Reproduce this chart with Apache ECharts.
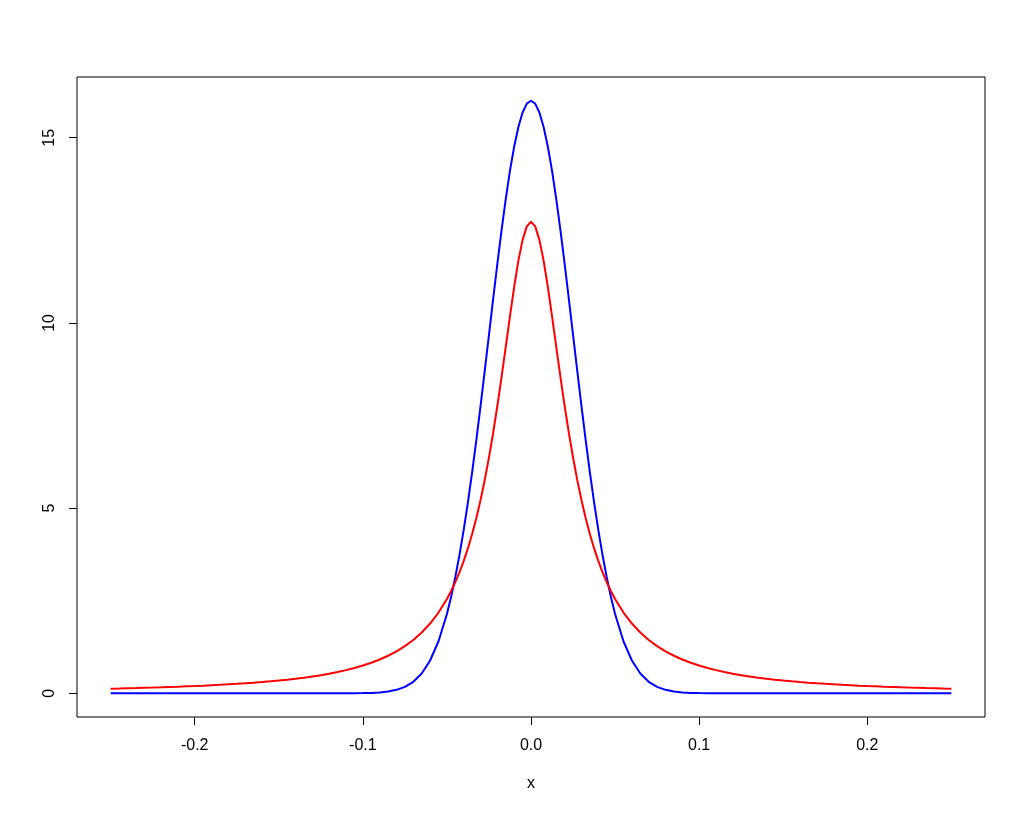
<!DOCTYPE html>
<html>
<head>
<meta charset="utf-8">
<script src="https://cdn.jsdelivr.net/npm/echarts@6/dist/echarts.min.js"></script>
<style>html,body{margin:0;padding:0;background:#fff}#c{width:1024px;height:813px}</style>
</head>
<body>
<div id="c"></div>
<script>
var xs = [-0.25,-0.245,-0.24,-0.235,-0.23,-0.225,-0.22,-0.215,-0.21,-0.205,
-0.2,-0.195,-0.19,-0.185,-0.18,-0.175,-0.17,-0.165,-0.16,-0.155,
-0.15,-0.145,-0.14,-0.135,-0.13,-0.125,-0.12,-0.115,-0.11,-0.105,
-0.1,-0.095,-0.09,-0.085,-0.08,-0.075,-0.07,-0.065,-0.06,-0.055,
-0.05,-0.0475,-0.045,-0.0425,-0.04,-0.0375,-0.035,-0.0325,-0.03,-0.0275,
-0.025,-0.0225,-0.02,-0.0175,-0.015,-0.0125,-0.01,-0.0075,-0.005,-0.0025,
0,
0.0025,0.005,0.0075,0.01,0.0125,0.015,0.0175,0.02,0.0225,0.025,
0.0275,0.03,0.0325,0.035,0.0375,0.04,0.0425,0.045,0.0475,0.05,
0.055,0.06,0.065,0.07,0.075,0.08,0.085,0.09,0.095,0.1,
0.105,0.11,0.115,0.12,0.125,0.13,0.135,0.14,0.145,0.15,
0.155,0.16,0.165,0.17,0.175,0.18,0.185,0.19,0.195,0.2,
0.205,0.21,0.215,0.22,0.225,0.23,0.235,0.24,0.245,0.25];

var blueVals = [0,0,0,0,0,0,0,0,0,0,
0,0,0,0,0,0,0,0,0,0,
0,0,0,0,0,0,0,0,0.001,0.002,
0.005,0.011,0.024,0.048,0.093,0.174,0.311,0.535,0.885,1.405,
2.143,2.607,3.140,3.743,4.419,5.164,5.974,6.842,7.758,8.710,
9.679,10.649,11.599,12.507,13.352,14.111,14.764,15.292,15.682,15.920,
16,
15.920,15.682,15.292,14.764,14.111,13.352,12.507,11.599,10.649,9.679,
8.710,7.758,6.842,5.974,5.164,4.419,3.743,3.140,2.607,2.143,
1.405,0.885,0.535,0.311,0.174,0.093,0.048,0.024,0.011,0.005,
0.002,0.001,0,0,0,0,0,0,0,0,
0,0,0,0,0,0,0,0,0,0,
0,0,0,0,0,0,0,0,0,0];

var redVals = [0.126,0.131,0.137,0.142,0.149,0.155,0.162,0.170,0.178,0.187,
0.196,0.206,0.217,0.228,0.241,0.255,0.270,0.286,0.303,0.323,
0.344,0.368,0.393,0.422,0.454,0.490,0.530,0.575,0.625,0.683,
0.749,0.825,0.912,1.014,1.133,1.273,1.440,1.641,1.883,2.180,
2.546,2.762,3.003,3.273,3.576,3.918,4.301,4.733,5.218,5.761,
6.366,7.034,7.763,8.545,9.362,10.186,10.976,11.681,12.242,12.606,
12.732,
12.606,12.242,11.681,10.976,10.186,9.362,8.545,7.763,7.034,6.366,
5.761,5.218,4.733,4.301,3.918,3.576,3.273,3.003,2.762,2.546,
2.180,1.883,1.641,1.440,1.273,1.133,1.014,0.912,0.825,0.749,
0.683,0.625,0.575,0.530,0.490,0.454,0.422,0.393,0.368,0.344,
0.323,0.303,0.286,0.270,0.255,0.241,0.228,0.217,0.206,0.196,
0.187,0.178,0.170,0.162,0.155,0.149,0.142,0.137,0.131,0.126];

var xTicks = [-0.2, -0.1, 0.0, 0.1, 0.2];
var xTickLabels = ['-0.2', '-0.1', '0.0', '0.1', '0.2'];
var yTicks = [0, 5, 10, 15];
var xLabel = 'x';

function pairs(v) { return xs.map(function (x, i) { return [x, v[i]]; }); }

var chart = echarts.init(document.getElementById('c'), null, {renderer: 'canvas'});
var font = 'Liberation Sans, Arial, sans-serif';
chart.setOption({
  animation: false,
  backgroundColor: '#ffffff',
  grid: {left: 77, right: 39, top: 77, bottom: 96, show: true, borderColor: '#000', borderWidth: 1, backgroundColor: 'transparent'},
  xAxis: {
    type: 'value', min: -0.27, max: 0.27,
    name: xLabel, nameLocation: 'middle', nameGap: 59,
    nameTextStyle: {fontFamily: font, fontSize: 16, color: '#000'},
    axisLine: {show: false, onZero: false},
    splitLine: {show: false},
    axisTick: {show: true, inside: false, length: 8, customValues: xTicks, lineStyle: {color: '#000', width: 1}},
    axisLabel: {show: true, margin: 21, customValues: xTicks, fontFamily: font, fontSize: 16, color: '#000',
      formatter: function (v) { var i = xTicks.indexOf(v); return i >= 0 ? xTickLabels[i] : ''; }}
  },
  yAxis: {
    type: 'value', min: -0.64, max: 16.64,
    axisLine: {show: false, onZero: false},
    splitLine: {show: false},
    axisTick: {show: true, inside: false, length: 8, customValues: yTicks, lineStyle: {color: '#000', width: 1}},
    axisLabel: {show: true, rotate: 90, margin: 19, customValues: yTicks, fontFamily: font, fontSize: 16, color: '#000',
      formatter: function (v) { return String(v); }}
  },
  series: [
    {type: 'line', data: pairs(blueVals), showSymbol: false, smooth: false, lineStyle: {color: '#0000ff', width: 2}, itemStyle: {color: '#0000ff'}},
    {type: 'line', data: pairs(redVals), showSymbol: false, smooth: false, lineStyle: {color: '#ff0000', width: 2}, itemStyle: {color: '#ff0000'}}
  ]
});
</script>
</body>
</html>
